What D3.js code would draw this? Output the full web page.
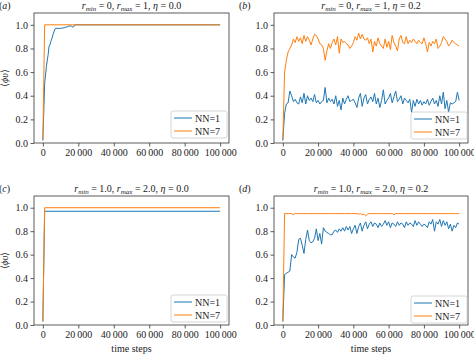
<!DOCTYPE html>
<html><head><meta charset="utf-8">
<script src="https://cdn.jsdelivr.net/npm/d3@7"></script>
<style>
body{margin:0;background:#fff;}
svg{display:block;}
</style></head>
<body><svg id="c" width="474" height="355"></svg>
<script>
// ---- data ----
const steps = d3.range(0, 100001, 1000); // sampling grid, 101 points
const xTicks = [0, 20000, 40000, 60000, 80000, 100000];
const xTickLabels = ["0", "20\u2009000", "40\u2009000", "60\u2009000", "80\u2009000", "100\u2009000"];
const yTicks = [0.0, 0.2, 0.4, 0.6, 0.8, 1.0];
const yTickLabels = ["0.0", "0.2", "0.4", "0.6", "0.8", "1.0"];
const seriesNames = ["NN=1", "NN=7"];

// panel (a)
const aX1 = [0,1000,2000,3000,3500,4000,4500,5000,6000,7000,8000,10000,12000,13000,14000,15000,16000,17000,17500,18000,100000];
const aY1 = [0.02,0.50,0.65,0.75,0.82,0.83,0.86,0.88,0.93,0.97,0.97,0.97,0.975,0.98,0.985,0.99,0.99,0.98,0.985,1.0,1.0];
const aX7 = [0,1000,100000];
const aY7 = [0.03,1.0,1.0];

// panel (b)
const bY1 = [
0.02,0.25,0.33,0.34,0.44,0.40,0.35,0.37,0.34,0.33,
0.39,0.34,0.42,0.33,0.40,0.36,0.38,0.35,0.41,0.34,
0.36,0.33,0.35,0.36,0.47,0.34,0.38,0.35,0.37,0.33,
0.40,0.31,0.36,0.28,0.38,0.33,0.37,0.40,0.35,0.36,
0.37,0.34,0.30,0.38,0.42,0.31,0.38,0.41,0.33,0.37,
0.39,0.35,0.42,0.33,0.38,0.30,0.36,0.45,0.33,0.36,
0.38,0.42,0.34,0.39,0.44,0.35,0.37,0.40,0.33,0.38,
0.36,0.34,0.37,0.26,0.36,0.31,0.37,0.33,0.36,0.32,
0.35,0.33,0.37,0.32,0.35,0.38,0.33,0.36,0.31,0.40,
0.33,0.43,0.29,0.36,0.26,0.34,0.33,0.34,0.35,0.43,
0.36];
const bY7 = [
0.03,0.60,0.70,0.77,0.80,0.83,0.88,0.85,0.90,0.86,
0.89,0.84,0.91,0.86,0.90,0.87,0.83,0.88,0.92,0.91,
0.88,0.84,0.83,0.80,0.70,0.78,0.84,0.80,0.85,0.88,
0.83,0.90,0.76,0.88,0.85,0.86,0.84,0.83,0.80,0.82,
0.85,0.90,0.87,0.93,0.88,0.92,0.88,0.87,0.89,0.84,
0.88,0.77,0.86,0.82,0.89,0.84,0.82,0.80,0.88,0.81,
0.86,0.79,0.91,0.85,0.82,0.78,0.88,0.91,0.85,0.84,
0.90,0.84,0.87,0.85,0.88,0.86,0.84,0.87,0.85,0.84,
0.89,0.84,0.77,0.85,0.82,0.86,0.84,0.88,0.80,0.82,
0.85,0.90,0.88,0.86,0.82,0.84,0.87,0.85,0.84,0.83,
0.82];

// panel (c)
const cX1 = [0,1000,100000];
const cY1 = [0.03,0.97,0.97];
const cX7 = [0,1000,100000];
const cY7 = [0.03,1.0,1.0];

// panel (d)
const dY1 = [
0.03,0.43,0.44,0.45,0.46,0.60,0.58,0.57,0.62,0.73,
0.74,0.68,0.61,0.73,0.81,0.72,0.70,0.71,0.74,0.82,
0.72,0.78,0.69,0.83,0.80,0.79,0.78,0.77,0.77,0.80,
0.81,0.79,0.82,0.80,0.83,0.80,0.84,0.81,0.84,0.78,
0.82,0.85,0.78,0.84,0.87,0.80,0.85,0.88,0.82,0.86,
0.88,0.84,0.87,0.86,0.83,0.87,0.84,0.86,0.89,0.85,
0.88,0.83,0.87,0.86,0.84,0.88,0.85,0.87,0.86,0.83,
0.88,0.85,0.87,0.86,0.84,0.89,0.85,0.88,0.86,0.84,
0.86,0.85,0.83,0.88,0.86,0.90,0.80,0.88,0.86,0.90,
0.84,0.89,0.85,0.88,0.82,0.86,0.80,0.85,0.83,0.87,
0.86];
const dY7 = [
0.03,0.95,0.95,0.95,0.95,0.95,0.94,0.95,0.95,0.95,
0.95,0.95,0.95,0.95,0.95,0.95,0.95,0.95,0.95,0.95,
0.95,0.95,0.95,0.95,0.95,0.95,0.95,0.95,0.95,0.95,
0.95,0.95,0.95,0.95,0.95,0.95,0.95,0.95,0.95,0.95,
0.95,0.95,0.95,0.945,0.95,0.94,0.945,0.93,0.945,0.95,
0.95,0.95,0.95,0.95,0.95,0.95,0.95,0.95,0.95,0.95,
0.95,0.95,0.95,0.94,0.95,0.95,0.95,0.95,0.95,0.95,
0.95,0.95,0.95,0.95,0.95,0.95,0.95,0.95,0.95,0.95,
0.95,0.95,0.95,0.95,0.95,0.95,0.95,0.95,0.95,0.95,
0.95,0.95,0.95,0.95,0.95,0.95,0.95,0.95,0.95,0.95,
0.95];

const colors = ["#1f77b4", "#ff7f0e"];

const panels = [
  {label:"a", box:[34,229,13,143], title:["0","1","0.0"], s:[[aX1,aY1],[aX7,aY7]], ylab:true, xlab:false, leg:[171,111]},
  {label:"b", box:[274,468,13,143], title:["0","1","0.2"], s:[[steps,bY1],[steps,bY7]], ylab:false, xlab:false, leg:[411,112]},
  {label:"c", box:[34,229,196,325], title:["1.0","2.0","0.0"], s:[[cX1,cY1],[cX7,cY7]], ylab:true, xlab:true, leg:[171,295]},
  {label:"d", box:[274,468,196,325], title:["1.0","2.0","0.2"], s:[[steps,dY1],[steps,dY7]], ylab:false, xlab:true, leg:[411,296]}
];

const svg = d3.select("#c");
const FS = 10;
const FF = "'Liberation Serif'";

panels.forEach(p => {
  const [x0,x1,y0,y1] = p.box;
  const x = d3.scaleLinear().domain([-5000,105000]).range([x0,x1]);
  const y = d3.scaleLinear().domain([0,1.1]).range([y1,y0]);
  const g = svg.append("g");

  p.s.forEach((sr,i) => {
    const pts = sr[0].map((v,k)=>[v, sr[1][k]]);
    g.append("path").datum(pts)
      .attr("fill","none").attr("stroke",colors[i]).attr("stroke-width",1)
      .attr("stroke-linejoin","round")
      .attr("d", d3.line().x(d=>x(d[0])).y(d=>y(d[1])));
  });

  const xa = d3.axisBottom(x).tickValues(xTicks).tickFormat((d,i)=>xTickLabels[i]).tickSize(3.5).tickPadding(2.5);
  const ya = d3.axisLeft(y).tickValues(yTicks).tickFormat((d,i)=>yTickLabels[i]).tickSize(3.5).tickPadding(2.5);
  const gx = g.append("g").attr("transform",`translate(0,${y1})`).call(xa);
  const gy = g.append("g").attr("transform",`translate(${x0},0)`).call(ya);
  [gx,gy].forEach(a=>{
    a.select(".domain").remove();
    a.selectAll("line").attr("stroke","#333").attr("stroke-width",0.8);
    a.selectAll("text").attr("fill","#222");
  });
  g.append("rect").attr("x",x0).attr("y",y0).attr("width",x1-x0).attr("height",y1-y0)
    .attr("fill","none").attr("stroke","#333").attr("stroke-width",0.8);

  const cx = (x0+x1)/2;
  const t = g.append("text").attr("x",cx).attr("y",y0-4).attr("text-anchor","middle").attr("fill","#222");
  t.append("tspan").attr("font-style","italic").text("r");
  t.append("tspan").attr("font-style","italic").style("font-size",(FS*0.7)+"px").attr("dy",2).text("min");
  t.append("tspan").attr("dy",-2).text(" = " + p.title[0] + ", ");
  t.append("tspan").attr("font-style","italic").text("r");
  t.append("tspan").attr("font-style","italic").style("font-size",(FS*0.7)+"px").attr("dy",2).text("max");
  t.append("tspan").attr("dy",-2).text(" = " + p.title[1] + ", ");
  t.append("tspan").attr("font-style","italic").text("η");
  t.append("tspan").text(" = " + p.title[2]);

  const pl = g.append("text").attr("x", x0 - 35).attr("y", y0-4).attr("fill","#222");
  pl.append("tspan").text("(");
  pl.append("tspan").attr("font-style","italic").text(p.label);
  pl.append("tspan").text(")");

  if (p.ylab) {
    const yl = g.append("text").attr("transform",`translate(${x0-26},${(y0+y1)/2}) rotate(-90)`)
      .attr("text-anchor","middle").attr("fill","#222");
    yl.append("tspan").text("⟨");
    yl.append("tspan").attr("font-style","italic").text("ϕυ");
    yl.append("tspan").text("⟩");
  }
  if (p.xlab) {
    g.append("text").attr("x",cx).attr("y",y1+27).attr("text-anchor","middle")
      .attr("fill","#222").text("time steps");
  }

  const [lx,ly] = p.leg;
  const lg = g.append("g").attr("transform",`translate(${lx},${ly})`);
  lg.append("rect").attr("width",56).attr("height",27).attr("rx",2)
    .attr("fill","#fff").attr("fill-opacity",0.8).attr("stroke","#ccc").attr("stroke-width",0.8);
  seriesNames.forEach((n,i)=>{
    lg.append("line").attr("x1",3).attr("x2",21).attr("y1",7+i*13).attr("y2",7+i*13)
      .attr("stroke",colors[i]).attr("stroke-width",1);
    lg.append("text").attr("x",24).attr("y",10.5+i*13).attr("fill","#222").text(n);
  });
});

// apply serif font to every text via inline style
svg.selectAll("text").style("font-family",FF).style("font-size",FS+"px");
svg.selectAll("tspan").filter(function(){return this.style.fontSize;}).each(function(){});
svg.selectAll("g").attr("font-family",null).attr("font-size",null);
</script></body></html>
